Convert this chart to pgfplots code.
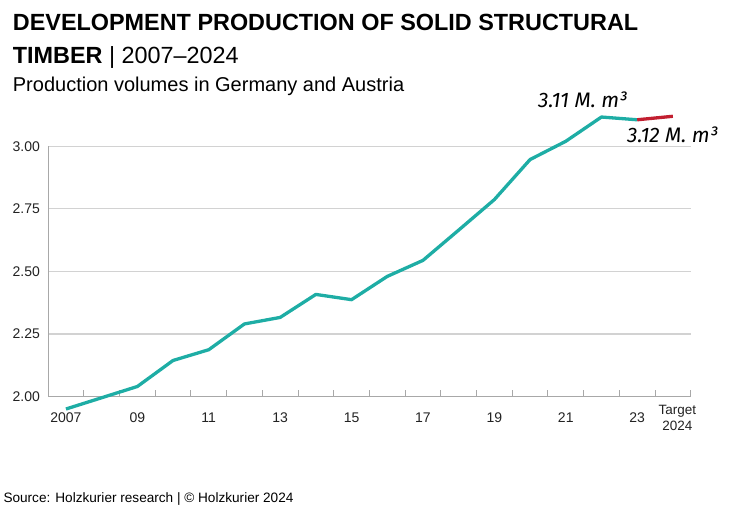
\documentclass[border=0pt]{standalone}
\usepackage{pgfplots}
\pgfplotsset{compat=1.18}
\usepackage{fontspec}
\setmainfont{Liberation Sans}
\newfontfamily\hand{Fira Sans}
\definecolor{teal1}{HTML}{1EADA5}
\definecolor{red1}{HTML}{C21F30}
\definecolor{gridc}{HTML}{D2D2D2}
\definecolor{axisc}{HTML}{A8A8A8}
\definecolor{txt}{HTML}{222222}
\begin{document}
\begin{tikzpicture}[x=1pt,y=1pt]
\useasboundingbox (0,0) rectangle (747,515);
\node[anchor=base west, inner sep=0] at (12.7,484.3) {\fontsize{23.4}{27}\selectfont\bfseries DEVELOPMENT PRODUCTION OF SOLID STRUCTURAL};
\node[anchor=base west, inner sep=0] at (12.7,451.7) {\fontsize{23.4}{27}\selectfont{\bfseries TIMBER} | 2007–2024};
\node[anchor=base west, inner sep=0] at (12.7,423.3) {\fontsize{20}{24}\selectfont Production volumes in Germany and Austria};
\node[anchor=base west, inner sep=0] at (3.3,12.3) {\fontsize{13.6}{16}\selectfont Source: Holzkurier research | © Holzkurier 2024};
\begin{axis}[
  at={(48.1pt,118.5pt)}, anchor=south west,
  scale only axis, width=642.6pt, height=250.2pt,
  xmin=-0.5, xmax=17.5, ymin=2, ymax=3,
  clip=false,
  axis x line*=bottom, axis y line*=left,
  x axis line style={draw=axisc, line width=1.5pt, -},
  y axis line style={draw=axisc, line width=1.1pt, -},
  ymajorgrids, grid style={draw=gridc, line width=1.2pt},
  ytick={2,2.25,2.5,2.75,3},
  xtick={0,...,17},
  xticklabels={2007,,09,,11,,13,,15,,17,,19,,21,,23,{\hspace*{9pt}\raisebox{-4pt}{\fontsize{13.5}{19}\selectfont\shortstack{Target\\2024}}}},
  minor xtick={-0.5,0.5,...,17.5},
  major tick length=0pt,
  minor tick length=7pt,
  tick align=inside,
  minor tick style={draw=axisc, line width=1pt},
  tick label style={font=\fontsize{14}{16}\selectfont, text=txt},
  /pgf/number format/assume math mode=true,
  yticklabel style={/pgf/number format/.cd, fixed, fixed zerofill, precision=2, /tikz/.cd, anchor=east, inner sep=0pt, xshift=-8pt},
  xticklabel style={anchor=center, inner sep=0pt, yshift=-21.5pt},
]
\addplot[teal1, line width=3.3pt, line join=round] coordinates {
(0,1.950) (1,1.995) (2,2.040) (3,2.144) (4,2.187) (5,2.290) (6,2.316)
(7,2.408) (8,2.387) (9,2.480) (10,2.544) (11,2.665) (12,2.787) (13,2.947)
(14,3.020) (15,3.117) (16,3.106)
};
\addplot[red1, line width=3.3pt, line join=round] coordinates {
(16,3.106) (17,3.120)
};
\end{axis}
\node[anchor=base west, inner sep=0] at (538,407) {\fontsize{21}{24}\selectfont\hand\itshape 3.11 M. m³};
\node[anchor=base west, inner sep=0] at (627,372) {\fontsize{21}{24}\selectfont\hand\itshape 3.12 M. m³};
\end{tikzpicture}
\end{document}
